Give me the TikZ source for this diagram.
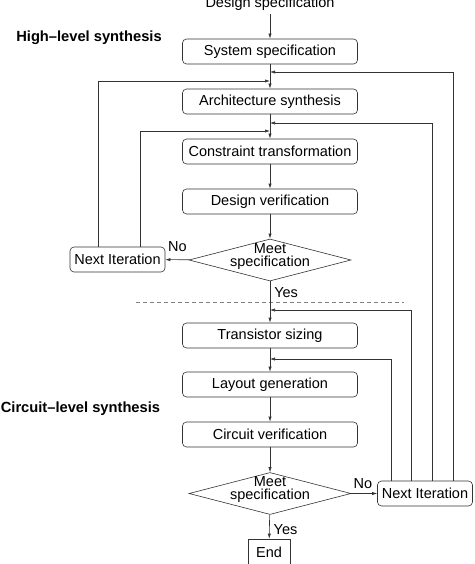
\documentclass[tikz,border=0pt]{standalone}
\usepackage{fontspec}
\setmainfont{Liberation Sans}
\usetikzlibrary{arrows.meta,shapes.geometric}

\tikzset{
  stagebox/.style={draw=black!80, rounded corners=4pt, minimum width=175pt, minimum height=25pt, inner sep=0pt},
  iterbox/.style={stagebox, minimum width=95pt},
  decision/.style={draw=black!80, diamond, inner sep=0pt, minimum width=162pt, minimum height=42pt},
  flow/.style={draw=black!80, -{Latex[length=5pt,width=3.2pt]}},
  tag/.style={inner sep=0pt},
}

\begin{document}
\begin{tikzpicture}[x=1pt,y=-1pt, font=\fontsize{14.5}{13}\selectfont, line width=0.6pt]
\def\mx{270}
\useasboundingbox (0,0) rectangle (474,564);

\node[tag, font=\fontsize{14.7}{16}\selectfont\bfseries, anchor=west] (hls) at (16,38) {High--level synthesis};
\node[tag, font=\fontsize{14.7}{16}\selectfont\bfseries, anchor=west] (cls) at (0.5,409) {Circuit--level synthesis};

\node (dspec) at (\mx,4) {Design specification};

\foreach \name/\y/\txt in {sys/51.5/System specification,
                           arch/101.5/Architecture synthesis,
                           cons/151.5/Constraint transformation,
                           ver/201.5/Design verification,
                           trans/335.5/Transistor sizing,
                           layout/384.5/Layout generation,
                           circ/434.5/Circuit verification} {
  \node[stagebox] (\name) at (\mx,\y) {\txt};
}

\node[decision] (meetA) at (\mx,260) {};
\node[align=center] at ([yshift=3.5pt]meetA) {Meet\\specification};
\node[decision] (meetB) at (\mx,493.5) {};
\node[align=center] at ([yshift=3.5pt]meetB) {Meet\\specification};

\node[iterbox] (nextA) at (117.5,259.5) {Next Iteration};
\node[iterbox] (nextB) at (425,493.5) {Next Iteration};
\node[draw=black!80, minimum width=42pt, minimum height=26pt, inner sep=0pt] (fin) at (269,552) {End};

\draw[gray, dash pattern=on 4pt off 3pt] (136,302) -- (404,302);

\foreach \a/\b in {dspec/sys, sys/arch, arch/cons, cons/ver, ver/meetA,
                   trans/layout, layout/circ, circ/meetB} {
  \draw[flow] (\a) -- (\b);
}
\draw[flow] (meetA) -- node[tag, pos=0.28, anchor=west, xshift=4pt] {Yes} (trans);
\draw[flow] (meetB) -- node[tag, pos=0.6, anchor=west, xshift=4pt] {Yes} (fin);
\draw[flow] (meetA) -- node[tag, anchor=south, yshift=8pt] {No} (nextA);
\draw[flow] (meetB) -- node[tag, pos=0.45, anchor=south, yshift=5pt] {No} (nextB);

\foreach \dx/\y [count=\i] in {-19.5/81, 22.5/131} {
  \coordinate (backA\i) at (\mx,\y);
  \draw[flow] ([xshift=\dx pt]nextA.north) |- (backA\i);
}
\foreach \dx/\y [count=\i] in {28/72, 7/123, -13.5/310, -34/359} {
  \coordinate (backB\i) at (\mx,\y);
  \draw[flow] ([xshift=\dx pt]nextB.north) |- (backB\i);
}
\end{tikzpicture}
\end{document}
